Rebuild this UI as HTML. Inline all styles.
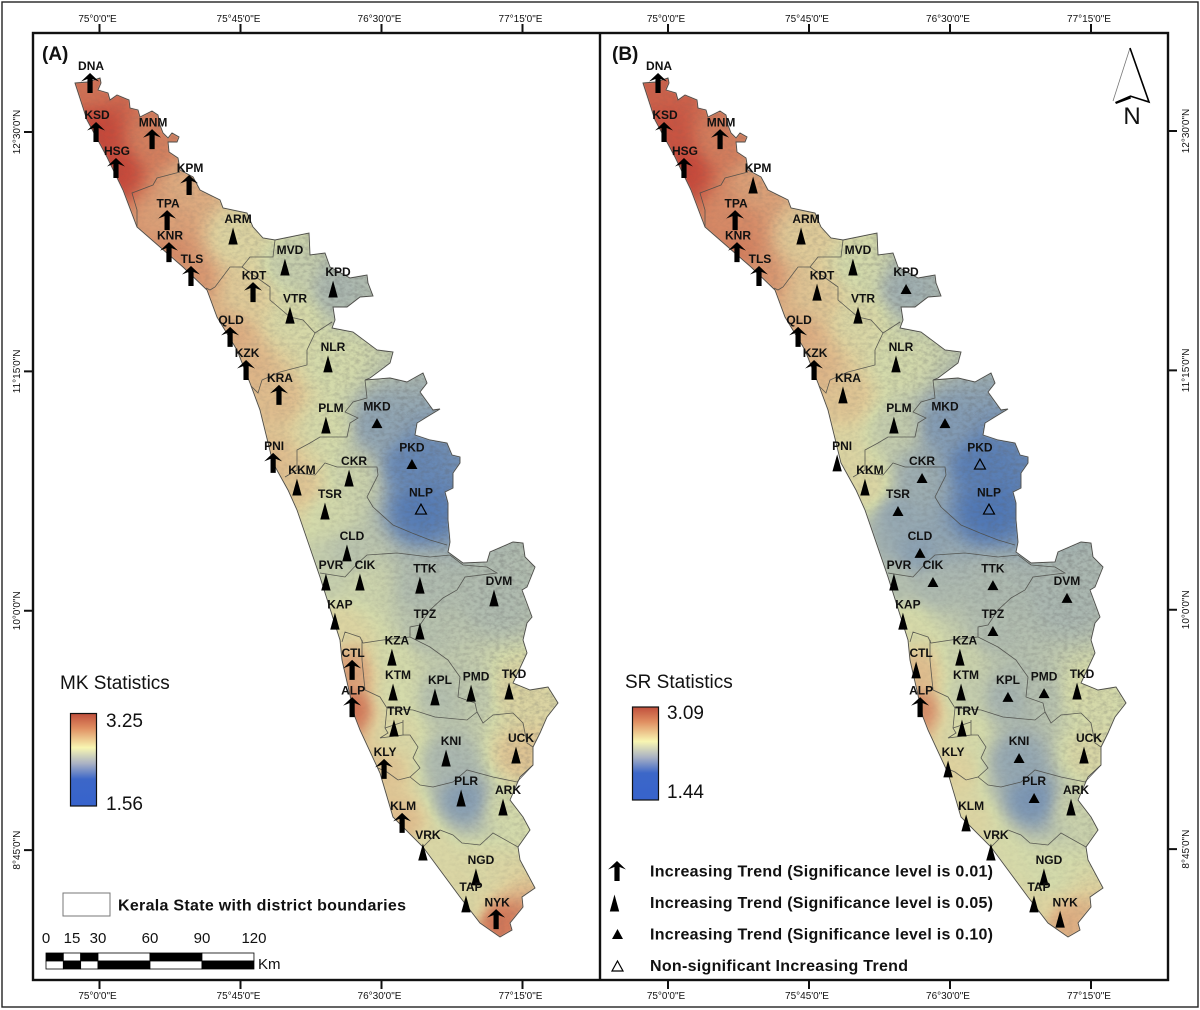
<!DOCTYPE html>
<html lang="en">
<head>
<meta charset="utf-8">
<title>Kerala MK and SR trend statistics</title>
<style>
html,body{margin:0;padding:0;background:#fff;width:1200px;height:1010px;overflow:hidden}
#field{position:absolute;left:0;top:0;width:1200px;height:1010px}
#overlay{position:absolute;left:0;top:0}
text{font-family:"Liberation Sans",Arial,sans-serif;fill:#111}
</style>
</head>
<body>
<canvas id="field" width="1200" height="1010"></canvas>
<svg id="overlay" width="1200" height="1010" viewBox="0 0 1200 1010" xmlns="http://www.w3.org/2000/svg">
  <defs>
    <linearGradient id="ramp" x1="0" y1="0" x2="0" y2="1">
      <stop offset="0" stop-color="#c04f3c"/>
      <stop offset=".16" stop-color="#e08f62"/>
      <stop offset=".37" stop-color="#f8f6b2"/>
      <stop offset=".54" stop-color="#aab2c4"/>
      <stop offset=".71" stop-color="#3c67c8"/>
      <stop offset="1" stop-color="#3763cc"/>
    </linearGradient>
    <linearGradient id="reliefFade" gradientUnits="userSpaceOnUse" x1="230" y1="520" x2="430" y2="420">
      <stop offset="0" stop-color="#000"/>
      <stop offset=".35" stop-color="#555"/>
      <stop offset="1" stop-color="#fff"/>
    </linearGradient>
    <filter id="relief" x="0" y="0" width="100%" height="100%">
      <feTurbulence type="fractalNoise" baseFrequency="0.2 0.3" numOctaves="3" seed="7"/>
      <feColorMatrix type="matrix" values="0 0 0 0 .12  0 0 0 0 .12  0 0 0 0 .12  1.9 1.9 0 0 -1.6"/>
    </filter>
    <mask id="reliefMask" maskUnits="userSpaceOnUse" x="0" y="0" width="620" height="1010">
      <rect x="0" y="0" width="620" height="1010" fill="url(#reliefFade)"/>
    </mask>
  </defs>

  <rect x="2" y="2" width="1196" height="1005" fill="none" stroke="#222" stroke-width="1.4"/>
  <g id="panelA"></g>
  <g id="panelB" transform="translate(568 0)"></g>
  <rect x="33" y="33" width="1135" height="947" fill="none" stroke="#111" stroke-width="2.4"/>
  <line x1="600" y1="33" x2="600" y2="980" stroke="#111" stroke-width="2.4"/>
  <g id="axes"></g>

  <text x="42" y="60" font-size="19" font-weight="700">(A)</text>
  <text x="612" y="60" font-size="19" font-weight="700">(B)</text>

  <g>
    <text x="60" y="689" font-size="19">MK Statistics</text>
    <rect x="70.5" y="713.5" width="26" height="92.5" fill="url(#ramp)" stroke="#111" stroke-width="1.2"/>
    <text x="106" y="727" font-size="19">3.25</text>
    <text x="106" y="810" font-size="19">1.56</text>
  </g>
  <g>
    <text x="625" y="688" font-size="19">SR Statistics</text>
    <rect x="632.5" y="707" width="26" height="93" fill="url(#ramp)" stroke="#111" stroke-width="1.2"/>
    <text x="667" y="719" font-size="19">3.09</text>
    <text x="667" y="798" font-size="19">1.44</text>
  </g>

  <g>
    <rect x="63" y="893" width="47" height="23" fill="#fff" stroke="#777" stroke-width="1"/>
    <text x="118" y="910.5" font-size="16" font-weight="700" textLength="288" lengthAdjust="spacing">Kerala State with district boundaries</text>
  </g>

  <g id="scale"></g>

  <g>
    <path d="M0-10L9-1.5 2.6-4V10H-2.6V-4L-9-1.5Z" transform="translate(617 871)" fill="#000"/>
    <path d="M0-8.5L4.7 8.5H-4.7Z" transform="translate(614.5 903)" fill="#000"/>
    <path d="M0-5L5.5 5H-5.5Z" transform="translate(617.5 934)" fill="#000"/>
    <path d="M0-5L5.5 5H-5.5Z" transform="translate(617.5 966)" fill="none" stroke="#000" stroke-width="1.2"/>
    <text x="650" y="876.5" font-size="16" font-weight="700" textLength="343" lengthAdjust="spacing">Increasing Trend (Significance level is 0.01)</text>
    <text x="650" y="908" font-size="16" font-weight="700" textLength="343" lengthAdjust="spacing">Increasing Trend (Significance level is 0.05)</text>
    <text x="650" y="939.5" font-size="16" font-weight="700" textLength="343" lengthAdjust="spacing">Increasing Trend (Significance level is 0.10)</text>
    <text x="650" y="971" font-size="16" font-weight="700" textLength="258" lengthAdjust="spacing">Non-significant Increasing Trend</text>
  </g>

  <g>
    <path d="M1130 48L1113 101" stroke="#777" stroke-width=".8" fill="none"/>
    <path d="M1130 48L1149 102L1130 96" stroke="#000" stroke-width="1.6" fill="none"/>
    <path d="M1115 102L1130 95.5L1131 98.5L1116 104Z" fill="#000"/>
    <text x="1132" y="124" font-size="24" text-anchor="middle">N</text>
  </g>
</svg>

<script>
/* ---------- Station data ---------- */
const stationCodes = ["DNA","KSD","MNM","HSG","KPM","TPA","KNR","TLS","ARM","MVD","KPD","KDT","VTR","QLD","KZK","NLR","KRA","PLM","MKD","PKD","NLP","PNI","KKM","CKR","TSR","CLD","PVR","CIK","TTK","DVM","KAP","TPZ","KZA","CTL","ALP","KTM","KPL","PMD","TKD","TRV","KNI","UCK","KLY","PLR","ARK","KLM","VRK","NGD","TAP","NYK"];
const stationLon = [74.939,74.971,75.269,75.077,75.466,75.349,75.359,75.476,75.721,75.997,76.253,75.806,76.024,75.684,75.769,76.226,75.944,76.215,76.460,76.646,76.694,75.913,76.061,76.338,76.210,76.327,76.215,76.396,76.715,77.109,76.263,76.715,76.566,76.333,76.333,76.572,76.795,76.987,77.189,76.577,76.854,77.226,76.503,76.934,77.157,76.599,76.731,77.013,76.960,77.099];
const stationLat = [12.756,12.500,12.463,12.312,12.223,12.040,11.873,11.748,11.957,11.795,11.680,11.664,11.544,11.430,11.257,11.289,11.127,10.970,10.980,10.766,10.531,10.772,10.646,10.693,10.521,10.302,10.150,10.150,10.134,10.067,9.946,9.894,9.758,9.691,9.497,9.576,9.550,9.570,9.581,9.388,9.231,9.247,9.174,9.022,8.975,8.892,8.740,8.610,8.469,8.390];

const mkValues = [3.10,3.25,3.05,3.25,2.85,2.90,3.00,2.95,2.55,2.30,2.12,2.65,2.45,2.85,2.80,2.40,2.75,2.42,1.95,1.70,1.60,2.75,2.70,2.35,2.38,2.22,2.30,2.35,2.15,2.15,2.55,2.20,2.40,2.90,3.10,2.40,2.18,2.25,2.55,2.50,2.12,2.70,2.70,1.90,2.40,2.75,2.50,2.50,2.50,3.10];
const srValues = [3.00,3.05,2.90,3.09,2.75,2.85,2.90,2.80,2.50,2.25,1.92,2.55,2.35,2.70,2.65,2.25,2.55,2.15,1.75,1.50,1.44,2.40,2.40,1.90,1.85,1.80,2.05,2.00,2.00,1.98,2.30,2.02,2.20,2.60,2.85,2.15,1.95,2.05,2.30,2.30,1.85,2.35,2.45,1.70,2.20,2.40,2.30,2.25,2.40,2.70];

/* a = 0.01 arrow, t = 0.05 tall triangle, s = 0.10 small triangle, o = non-significant */
const mkTrend = ["a","a","a","a","a","a","a","a","t","t","t","a","t","a","a","t","a","t","s","s","o","a","t","t","t","t","t","t","t","t","t","t","t","a","a","t","t","t","t","t","t","t","a","t","t","a","t","t","t","a"];
const srTrend = ["a","a","a","a","t","a","a","a","t","t","s","t","t","a","a","t","t","t","s","o","o","t","t","s","s","s","t","s","s","s","t","s","t","t","a","t","s","s","t","t","s","t","t","s","t","t","t","t","t","t"];

const mkRange = [1.56,3.25];
const srRange = [1.44,3.09];

const lonTicks = [75,75.75,76.5,77.25];
const lonTickLabels = ["75°0'0\"E","75°45'0\"E","76°30'0\"E","77°15'0\"E"];
const latTicks = [12.5,11.25,10,8.75];
const latTickLabels = ["12°30'0\"N","11°15'0\"N","10°0'0\"N","8°45'0\"N"];

const scaleLabels = [0,15,30,60,90,120];
const scaleBreaks = [0,10,20,30,60,90,120];

/* ---------- Axis functions ---------- */
function lonToX(lon){ return 97.5 + (lon - 75) * 188; }
function latToY(lat){ return 132 + (12.5 - lat) * 191.5; }
function kmToX(km){ return 46 + km * 1.733; }

/* ---------- Geography ---------- */
const stateOutline = "M75 83L88 82L100 78L101 83L98 90L108 93L110 100L117 95L129 100L130 108L138 110L140 117L152 111L158 115L160 125L163 133L168 138L172 133L179 137L177 142L168 142L169 152L178 158L180 170L193 177L200 190L220 200L223 208L247 213L253 227L263 238L275 240L309 233L310 255L325 253L330 267L350 278L367 275L368 283L373 296L360 297L347 307L333 307L335 320L332 328L353 332L377 350L393 352L390 363L370 378L365 380L390 378L407 382L423 373L427 383L420 392L433 410L440 409L430 415L417 423L415 435L430 440L447 443L452 455L460 457L460 463L453 473L453 488L445 492L448 503L448 520L450 542L448 552L463 563L487 562L490 552L513 542L523 543L525 557L535 567L527 587L522 590L532 617L527 623L523 640L527 653L513 683L530 690L548 687L558 703L547 717L540 733L533 747L533 765L520 777L510 800L523 817L530 830L518 847L520 860L535 888L522 897L523 907L510 923L512 930L500 937L480 923L460 897L423 847L393 817L380 773L360 730L355 717L342 660L340 640L320 577L297 510L288 490L273 463L260 410L250 383L237 350L217 317L207 290L183 267L160 247L137 227L123 190L107 157L87 120Z";
const districtLines = [
  "M137 227L137 210L132 193L153 185L157 178L180 172",
  "M275 240L273 257L250 257L242 267L230 267L215 287L210 290L206 288",
  "M242 267L270 287L270 300L290 317L303 320L315 333L332 322",
  "M315 333L307 350L307 365L280 372L262 380L258 393L251 386",
  "M365 380L367 398L353 402L345 412L358 418L350 423L347 437L320 437L310 443L297 450L297 470L285 477",
  "M297 473L315 475L325 463L337 467L377 467L378 475L367 497L373 507L393 525L412 533L430 540L447 545",
  "M320 573L345 577L358 563L367 555L397 553L430 557L450 555L463 565L487 567L497 573L465 577L457 590L443 598L430 610L420 625L410 627L410 637L430 647L448 660L460 677L458 697L475 703L477 712L483 723L493 715L513 713L523 723L527 743L533 747",
  "M342 642L345 632L360 637L363 643L383 640L410 637",
  "M362 640L362 660L365 690L380 697L387 708L413 710L435 717L467 720L477 712",
  "M387 708L385 728L388 733L380 738L403 735L403 720M385 728L403 722",
  "M403 735L410 735L418 747L413 758L420 768L410 777L398 780L387 772L378 768",
  "M410 777L420 785L433 787L453 782L467 770L493 777L517 782L533 765",
  "M423 847L440 830L453 835L462 843L480 845L493 833L518 847"
];

/* ---------- Raster colour ramp for the hillshaded map ---------- */
const rampStops = [0,.15,.32,.5,.62,.75,.88,1];
const rampColors = [[79,119,181],[119,147,181],[168,181,176],[212,218,171],[223,209,158],[221,176,132],[211,128,95],[197,72,58]];
function rampColor(t){
  t = Math.max(0, Math.min(1, t));
  let i = 0;
  while (i < rampStops.length - 2 && t > rampStops[i + 1]) i++;
  const f = (t - rampStops[i]) / (rampStops[i + 1] - rampStops[i]);
  return rampColors[i].map((c, k) => c + (rampColors[i + 1][k] - c) * f);
}

function paintField(ctx, values, range, offsetX){
  const cell = 3, x0 = 60, y0 = 60, w = 510, h = 900;
  const gw = Math.ceil(w / cell), gh = Math.ceil(h / cell);
  const off = document.createElement('canvas');
  off.width = gw; off.height = gh;
  const oc = off.getContext('2d');
  const img = oc.createImageData(gw, gh);
  const sx = stationLon.map(lonToX), sy = stationLat.map(latToY);
  for (let j = 0; j < gh; j++){
    for (let i = 0; i < gw; i++){
      const px = x0 + i * cell, py = y0 + j * cell;
      let sw = 0, sv = 0;
      for (let k = 0; k < values.length; k++){
        const dx = px - sx[k] - 2, dy = py - sy[k];
        const d2 = dx * dx + dy * dy + 220;
        const wgt = 1 / (d2 * d2);
        sw += wgt; sv += wgt * values[k];
      }
      const c = rampColor((sv / sw - range[0]) / (range[1] - range[0]));
      const p = (j * gw + i) * 4;
      img.data[p] = c[0]; img.data[p + 1] = c[1]; img.data[p + 2] = c[2]; img.data[p + 3] = 255;
    }
  }
  oc.putImageData(img, 0, 0);
  ctx.save();
  ctx.translate(offsetX, 0);
  ctx.clip(new Path2D(stateOutline));
  ctx.imageSmoothingEnabled = true;
  ctx.imageSmoothingQuality = 'high';
  ctx.drawImage(off, x0, y0, gw * cell, gh * cell);
  ctx.restore();
}

const ctx = document.getElementById('field').getContext('2d');
paintField(ctx, mkValues, mkRange, 0);
paintField(ctx, srValues, srRange, 568);

/* ---------- SVG helpers ---------- */
const NS = 'http://www.w3.org/2000/svg';
function make(tag, parent, attrs){
  const el = document.createElementNS(NS, tag);
  for (const key in attrs) el.setAttribute(key, attrs[key]);
  parent.appendChild(el);
  return el;
}

const markerOffset = { a: 4, t: 0, s: 5, o: 5 };
const markerShapes = {
  a: "M0-10L9-1.5 2.6-4V10H-2.6V-4L-9-1.5Z",
  t: "M0-8.5L4.7 8.5H-4.7Z",
  s: "M0-5L5.5 5H-5.5Z",
  o: "M0-5L5.5 5H-5.5Z"
};

function drawPanel(group, trend, clipId, panelName){
  const clip = make('clipPath', group, { id: clipId });
  make('path', clip, { d: stateOutline });

  const relief = make('g', group, { 'clip-path': 'url(#' + clipId + ')' });
  
  
  const reliefInner = make('g', relief, { mask: 'url(#reliefMask)', opacity: '.3' });
  make('rect', reliefInner, { x: 60, y: 60, width: 510, height: 900, filter: 'url(#relief)' });

  districtLines.forEach(function(d, idx){
    const line = make('path', group, { d: d, fill: 'none', stroke: '#4c4c48', 'stroke-width': '.8', opacity: '.9' });
    
    
  });

  const outline = make('path', group, { d: stateOutline, fill: 'none', stroke: '#4c4c48', 'stroke-width': '.9' });
  
  

  stationCodes.forEach(function(code, i){
    const x = lonToX(stationLon[i]);
    const y = latToY(stationLat[i]);
    const kind = trend[i];
    const attrs = { d: markerShapes[kind], transform: 'translate(' + (x + markerOffset[kind]) + ' ' + y + ')' };
    if (kind === 'o'){ attrs.fill = 'none'; attrs.stroke = '#000'; attrs['stroke-width'] = '1.2'; }
    else { attrs.fill = '#000'; }
    const mark = make('path', group, attrs);
    
    

    const label = make('text', group, { x: x + 5, y: y - 12.8, 'font-size': '12', 'font-weight': '700', 'text-anchor': 'middle' });
    label.textContent = code;
    
    
  });
}

drawPanel(document.getElementById('panelA'), mkTrend, 'clipA', 'panel-a');
drawPanel(document.getElementById('panelB'), srTrend, 'clipB', 'panel-b');

/* ---------- Graticule ticks and labels ---------- */
const axes = document.getElementById('axes');
const tickNudge = 2;
[0, 568.5].forEach(function(shift){
  lonTicks.forEach(function(lon, i){
    const x = lonToX(lon) + tickNudge + shift;
    const top = make('line', axes, { x1: x, x2: x, y1: 24, y2: 33, stroke: '#111', 'stroke-width': '2' });
    
    
    const bottom = make('line', axes, { x1: x, x2: x, y1: 980, y2: 989, stroke: '#111', 'stroke-width': '2' });
    
    
    const t1 = make('text', axes, { x: x - 2, y: 22, 'font-size': '10', 'text-anchor': 'middle' });
    t1.textContent = lonTickLabels[i];
    
    
    const t2 = make('text', axes, { x: x - 2, y: 999, 'font-size': '10', 'text-anchor': 'middle' });
    t2.textContent = lonTickLabels[i];
    
    
  });
});
latTicks.forEach(function(lat, i){
  const y = latToY(lat);
  const left = make('line', axes, { x1: 24, x2: 33, y1: y, y2: y, stroke: '#111', 'stroke-width': '2' });
  
  
  const right = make('line', axes, { x1: 1168, x2: 1177, y1: y - 1, y2: y - 1, stroke: '#111', 'stroke-width': '2' });
  
  
  const t1 = make('text', axes, { transform: 'translate(20 ' + y + ') rotate(-90)', 'font-size': '10', 'text-anchor': 'middle' });
  t1.textContent = latTickLabels[i];
  
  
  const t2 = make('text', axes, { transform: 'translate(1189 ' + (y - 1) + ') rotate(-90)', 'font-size': '10', 'text-anchor': 'middle' });
  t2.textContent = latTickLabels[i];
  
  
});

/* ---------- Scale bar ---------- */
const scale = document.getElementById('scale');
for (let i = 0; i < scaleBreaks.length - 1; i++){
  const x1 = kmToX(scaleBreaks[i]), x2 = kmToX(scaleBreaks[i + 1]);
  const upper = make('rect', scale, { x: x1, y: 953, width: x2 - x1, height: 8, fill: i % 2 ? '#fff' : '#000', stroke: '#000', 'stroke-width': '.8' });
  
  
  const lower = make('rect', scale, { x: x1, y: 961, width: x2 - x1, height: 8, fill: i % 2 ? '#000' : '#fff', stroke: '#000', 'stroke-width': '.8' });
  
  
}
scaleLabels.forEach(function(km){
  const t = make('text', scale, { x: kmToX(km), y: 943, 'font-size': '15', 'text-anchor': 'middle' });
  t.textContent = String(km);
  
  
});
const kmUnit = make('text', scale, { x: 258, y: 969, 'font-size': '15' });
kmUnit.textContent = 'Km';


</script>
</body>
</html>
